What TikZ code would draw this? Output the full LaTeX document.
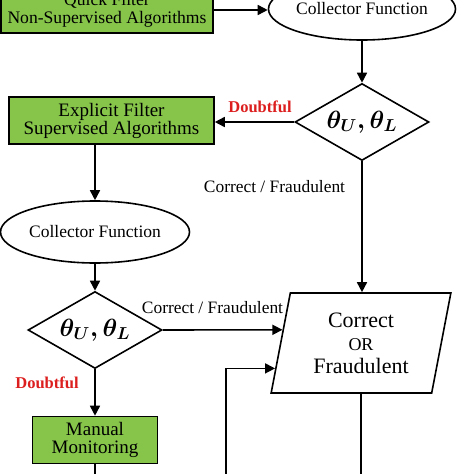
\documentclass[tikz,border=0pt]{standalone}
\usepackage{amsmath}
\usepackage{fontspec}
\setmainfont{Liberation Serif}
\usetikzlibrary{shapes.geometric,arrows.meta,calc}
\definecolor{boxgreen}{RGB}{134,197,74}
\definecolor{doubtred}{RGB}{220,30,30}
\begin{document}
\begin{tikzpicture}[x=1pt,y=-1pt,
  line width=1.6pt,
  arr/.style={-{Triangle[length=10pt,width=10pt]}},
  greenbox/.style={draw, fill=boxgreen, rectangle, inner sep=0pt, align=center, font=\fontsize{19}{18}\selectfont},
  collector/.style={draw, ellipse, inner sep=0pt, minimum height=62pt, font=\fontsize{17.5}{18}\selectfont},
  decision/.style={draw, diamond, aspect=1.74, inner sep=0pt, minimum width=134pt, minimum height=77pt, font=\fontsize{24}{24}\selectfont},
  outcome/.style={draw, trapezium, trapezium left angle=78, trapezium right angle=102, trapezium stretches=true, inner sep=0pt, minimum width=180pt, minimum height=100pt, align=center, font=\fontsize{22}{23}\selectfont},
  edgelabel/.style={font=\fontsize{17.4}{18}\selectfont, inner sep=0pt},
  doubtlabel/.style={font=\fontsize{16.5}{17}\selectfont\bfseries, text=doubtred, inner sep=0pt}
]
\path[use as bounding box] (0,0) rectangle (474,474);
\clip (0,0) rectangle (474,474);

% nodes
\node[greenbox, minimum width=212pt, minimum height=46pt, font=\fontsize{17.6}{18}\selectfont] (qf) at (107,10) {Quick Filter\\Non-Supervised Algorithms};
\node[collector, minimum width=187pt] (c1) at (362,9) {Collector Function};
\node[decision] (d1) at (362,122) {$\boldsymbol{\theta_U,\theta_L}$};
\node[greenbox, minimum width=205pt, minimum height=47pt] (ef) at (111.5,120.5) {Explicit Filter\\Supervised Algorithms};
\node[collector, minimum width=189pt] (c2) at (95,232) {Collector Function};
\node[decision] (d2) at (95,330) {$\boldsymbol{\theta_U,\theta_L}$};
\node[greenbox, minimum width=125pt, minimum height=47pt] (mm) at (95,440) {Manual\\Monitoring};
\node[outcome] (par) at (361,343) {Correct\\{\fontsize{18}{18}\selectfont OR}\\Fraudulent};

\coordinate (loopin) at (226,474);
\coordinate (parout) at (361,474);
\coordinate (mmout) at (95,474);

% connectors
\draw[arr] (qf.east) -- (qf.east -| c1.west);
\draw[arr] (c1.south) -- (d1.north);
\draw[arr] (d1.west) -- (d1.west -| ef.east);
\draw[arr] (d1.south) -- (d1.south |- par.north);
\draw[arr] (c2.north |- ef.south) -- (c2.north);
\draw[arr] (c2.south) -- (d2.north);
\draw[arr] (d2.east) -- ($(par.bottom left corner)!0.63!(par.top left corner)$);
\draw[arr] (d2.south) -- (mm.north);
\draw[arr] (loopin) |- ($(par.bottom left corner)!0.25!(par.top left corner)$);
\draw (par.center |- par.south) -- (parout);
\draw (mm.south) -- (mmout);

% labels
\node[doubtlabel] (dl1) at (260,107) {Doubtful};
\node[edgelabel] (cf1) at (274.5,187) {Correct / Fraudulent};
\node[edgelabel] (cf2) at (212.5,308) {Correct / Fraudulent};
\node[doubtlabel] (dl2) at (47,383) {Doubtful};
\end{tikzpicture}
\end{document}
